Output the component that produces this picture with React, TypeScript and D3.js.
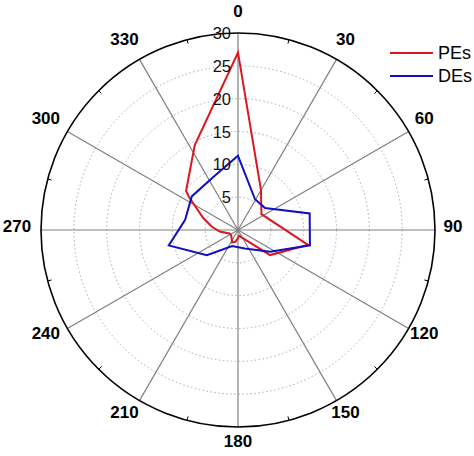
import React from "react";
import * as d3 from "d3";

const peAngles = [0, 30, 56, 102, 128, 168, 191, 205, 233, 248, 265, 277, 289, 304, 307, 333];
const peValues = [27, 7.0, 4.3, 10.9, 6.2, 0.9, 1.8, 2.1, 1.3, 1.4, 2.8, 4.0, 5.6, 9.0, 9.9, 14.5];
const deAngles = [0, 29, 51, 77, 102, 124, 160, 200, 231, 257.5, 281, 306, 335];
const deValues = [11.3, 5.35, 5.3, 11.2, 11.2, 5.9, 3.0, 2.6, 6.1, 10.8, 8.2, 8.7, 8.9];
const radialTicks = [5, 10, 15, 20, 25, 30];
const angleTicks = [0, 30, 60, 90, 120, 150, 180, 210, 240, 270, 300, 330];
const minorTicks = [15, 45, 75, 105, 135, 165, 195, 225, 255, 285, 315, 345];
const seriesNames = ["PEs", "DEs"];
const seriesColors = ["#e0141e", "#1010c0"];

const W = 474, H = 456;
const cx = 238, cy = 230, R = 197;

export default function App() {
  const r = d3.scaleLinear().domain([0, 30]).range([0, R]);
  const rad = (deg: number) => (deg * Math.PI) / 180;
  const line = d3
    .lineRadial<[number, number]>()
    .angle((d) => rad(d[0]))
    .radius((d) => r(d[1]))
    .curve(d3.curveLinearClosed);
  const pe: [number, number][] = peAngles.map((a, i) => [a, peValues[i]]);
  const de: [number, number][] = deAngles.map((a, i) => [a, deValues[i]]);
  const font = "'Liberation Sans', Arial, sans-serif";

  return (
    <div style={{ position: "absolute", left: 0, top: 0 }}>
      <svg width={W} height={H} style={{ display: "block", background: "#fff" }}>
        <g transform={`translate(${cx},${cy})`}>
          {radialTicks.slice(0, -1).map((t) => (
            <circle key={t} r={r(t)} fill="none" stroke="#aaaaaa" strokeWidth={1} strokeDasharray="1.5,2.5" />
          ))}
          {angleTicks.map((a) => (
            <line key={a} x1={0} y1={0} x2={R * Math.sin(rad(a))} y2={-R * Math.cos(rad(a))} stroke="#808080" strokeWidth={1.2} />
          ))}
          {minorTicks.map((a) => (
            <line key={a} x1={(R - 4) * Math.sin(rad(a))} y1={-(R - 4) * Math.cos(rad(a))} x2={R * Math.sin(rad(a))} y2={-R * Math.cos(rad(a))} stroke="#000" strokeWidth={1} />
          ))}
          <circle r={R} fill="none" stroke="#000" strokeWidth={1.6} />
          <path d={line(pe) || ""} fill="none" stroke={seriesColors[0]} strokeWidth={2} strokeLinejoin="miter" />
          <path d={line(de) || ""} fill="none" stroke={seriesColors[1]} strokeWidth={2} strokeLinejoin="miter" />
          {radialTicks.map((t) => (
            <text key={t} x={-7} y={-r(t)} textAnchor="end" dominantBaseline="central" fontFamily={font} fontSize={16.5} fill="#111">
              {t}
            </text>
          ))}
          {angleTicks.map((a) => {
            const s = Math.sin(rad(a)), c = Math.cos(rad(a));
            const x = 215 * s + (s < -0.01 ? -6 : 0);
            const y = -215 * c - 4;
            return (
              <text key={a} x={x} y={y} textAnchor="middle" dominantBaseline="central" fontFamily={font} fontWeight="bold" fontSize={17} fill="#000">
                {a}
              </text>
            );
          })}
        </g>
        {seriesNames.map((n, i) => (
          <g key={n} transform={`translate(390,${53 + i * 23})`}>
            <line x1={0} x2={43} y1={0} y2={0} stroke={seriesColors[i]} strokeWidth={2} />
            <text x={48} y={0} dominantBaseline="central" fontFamily={font} fontSize={18} fill="#000">
              {n}
            </text>
          </g>
        ))}
      </svg>
    </div>
  );
}
